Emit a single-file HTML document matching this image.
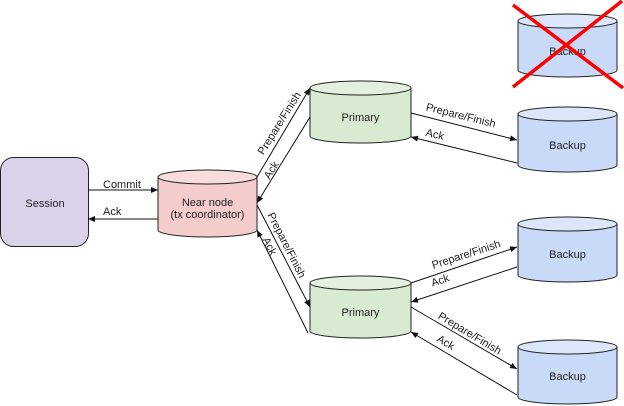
<!DOCTYPE html>
<html><head><meta charset="utf-8"><style>
html,body{margin:0;padding:0;background:#fff;}
svg{display:block;}
text{font-family:"Liberation Sans",Arial,sans-serif;font-size:11px;fill:#222;}
</style></head><body>
<svg width="624" height="406" viewBox="0 0 624 406" xmlns="http://www.w3.org/2000/svg">
<defs>
<marker id="a" markerWidth="7" markerHeight="6" refX="7" refY="3" orient="auto" markerUnits="userSpaceOnUse">
<path d="M0,0 L7,3 L0,6 z" fill="#111"/>
</marker>
</defs>
<g stroke="#222" stroke-width="1">
<!-- Session -->
<rect x="0.5" y="157.5" width="88" height="89" rx="13" fill="#d9d2e9"/>
<!-- Near node -->
<path d="M158,177 V230 A49.5,7 0 0 0 257,230 V177 Z" fill="#f4cccc"/>
<ellipse cx="207.5" cy="177" rx="49.5" ry="7" fill="#f8dcdc"/>
<!-- Primary 1 -->
<path d="M310,88 V136 A50.5,7 0 0 0 411,136 V88 Z" fill="#d9ead3"/>
<ellipse cx="360.5" cy="88" rx="50.5" ry="7" fill="#e3f0de"/>
<!-- Primary 2 -->
<path d="M310,283 V331 A50.5,7 0 0 0 411,331 V283 Z" fill="#d9ead3"/>
<ellipse cx="360.5" cy="283" rx="50.5" ry="7" fill="#e3f0de"/>
<!-- Backup 0 -->
<path d="M518,21 V70 A49.5,7 0 0 0 617,70 V21 Z" fill="#c9daf8"/>
<ellipse cx="567.5" cy="21" rx="49.5" ry="7" fill="#dbe6fa"/>
<!-- Backup 1 -->
<path d="M518,114 V165 A49.5,7 0 0 0 617,165 V114 Z" fill="#c9daf8"/>
<ellipse cx="567.5" cy="114" rx="49.5" ry="7" fill="#dbe6fa"/>
<!-- Backup 2 -->
<path d="M518,224 V275 A49.5,7 0 0 0 617,275 V224 Z" fill="#c9daf8"/>
<ellipse cx="567.5" cy="224" rx="49.5" ry="7" fill="#dbe6fa"/>
<!-- Backup 3 -->
<path d="M518,347 V397 A49.5,7 0 0 0 617,397 V347 Z" fill="#c9daf8"/>
<ellipse cx="567.5" cy="347" rx="49.5" ry="7" fill="#dbe6fa"/>
</g>
<g stroke="#111" stroke-width="1" fill="none" marker-end="url(#a)">
<line x1="88" y1="190" x2="158" y2="190"/>
<line x1="158" y1="219" x2="88" y2="219"/>
<line x1="257" y1="177" x2="310" y2="88"/>
<line x1="310" y1="117" x2="257" y2="203"/>
<line x1="257" y1="205" x2="310" y2="307"/>
<line x1="308" y1="333" x2="257" y2="230"/>
<line x1="411" y1="113" x2="517" y2="140"/>
<line x1="517" y1="163" x2="411" y2="137"/>
<line x1="411" y1="283" x2="517" y2="247"/>
<line x1="517" y1="267" x2="411" y2="302"/>
<line x1="411" y1="307" x2="517" y2="369"/>
<line x1="517" y1="395" x2="411" y2="332"/>
</g>
<!-- node labels -->
<text x="45" y="207" text-anchor="middle">Session</text>
<text x="207.5" y="206" text-anchor="middle">Near node</text>
<text x="207.5" y="218" text-anchor="middle">(tx coordinator)</text>
<text x="360.5" y="121" text-anchor="middle">Primary</text>
<text x="360.5" y="316" text-anchor="middle">Primary</text>
<text x="567.5" y="55" text-anchor="middle">Backup</text>
<text x="567.5" y="149" text-anchor="middle">Backup</text>
<text x="567.5" y="258" text-anchor="middle">Backup</text>
<text x="567.5" y="380" text-anchor="middle">Backup</text>
<!-- red X -->
<g stroke="#ff0000" stroke-width="3.5" stroke-linecap="butt">
<line x1="513" y1="5" x2="623" y2="88"/>
<line x1="622" y1="1" x2="513" y2="87"/>
</g>
<!-- connector labels -->
<text x="103" y="188">Commit</text>
<text x="103" y="215">Ack</text>
<text x="279" y="127" text-anchor="middle" transform="rotate(-58 279 123)">Prepare/Finish</text>
<text x="271" y="174" text-anchor="middle" transform="rotate(-58 271 170)">Ack</text>
<text x="287" y="249" text-anchor="middle" transform="rotate(63 287 245)">Prepare/Finish</text>
<text x="270" y="250" text-anchor="middle" transform="rotate(63 270 246)">Ack</text>
<text x="461" y="119" text-anchor="middle" transform="rotate(14 461 115)">Prepare/Finish</text>
<text x="435" y="138" text-anchor="middle" transform="rotate(14 435 134)">Ack</text>
<text x="466" y="258" text-anchor="middle" transform="rotate(-18 466 254)">Prepare/Finish</text>
<text x="440" y="284" text-anchor="middle" transform="rotate(-18 440 280)">Ack</text>
<text x="470" y="337" text-anchor="middle" transform="rotate(31 470 333)">Prepare/Finish</text>
<text x="446" y="346" text-anchor="middle" transform="rotate(31 446 342)">Ack</text>
</svg>
</body></html>
